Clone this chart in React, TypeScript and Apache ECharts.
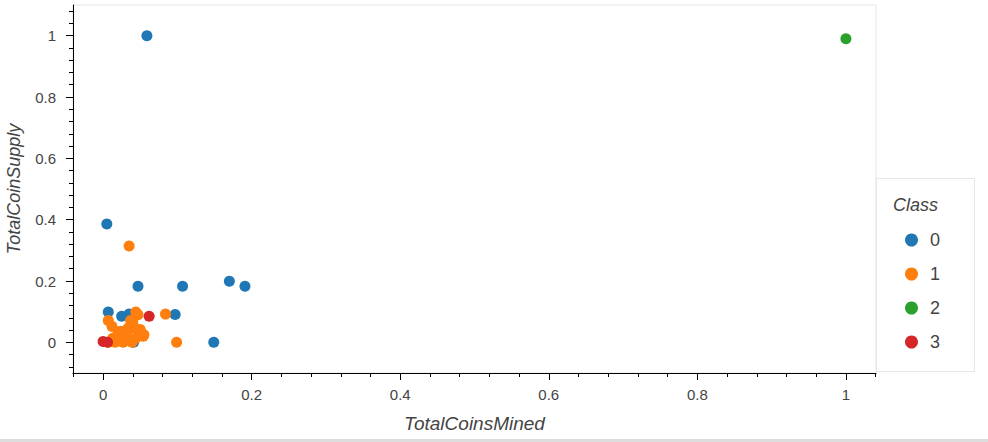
import { useEffect, useRef } from 'react';
import * as echarts from 'echarts';

const classNames = ['0', '1', '2', '3'];
const classColors = ['#1f77b4', '#ff7f0e', '#2ca02c', '#d62728'];

// [TotalCoinsMined, TotalCoinSupply]
const class0 = [
  [0.059, 1.0], [0.005, 0.386], [0.047, 0.183], [0.107, 0.183], [0.17, 0.199],
  [0.191, 0.183], [0.097, 0.091], [0.149, 0.0], [0.007, 0.099], [0.025, 0.085],
  [0.035, 0.092], [0.041, 0.0], [0.032, 0.04], [0.028, 0.005],
];
const class1 = [
  [0.035, 0.314], [0.044, 0.099], [0.047, 0.09], [0.084, 0.092], [0.099, 0.0],
  [0.007, 0.071], [0.012, 0.052], [0.037, 0.071], [0.039, 0.052], [0.047, 0.041],
  [0.055, 0.025], [0.023, 0.036], [0.027, 0.02], [0.018, 0.003], [0.007, 0.0],
  [0.027, 0.0], [0.039, 0.0], [0.034, 0.047], [0.032, 0.03], [0.04, 0.047],
  [0.05, 0.042], [0.054, 0.02], [0.013, 0.013], [0.02, 0.026], [0.044, 0.013],
  [0.04, 0.065], [0.016, 0.0], [0.034, 0.006],
];
const class2 = [[1.0, 0.99]];
const class3 = [[0.0, 0.003], [0.006, 0.0], [0.062, 0.085]];
const classData = [class0, class1, class2, class3];

const majorTicks = [0, 0.2, 0.4, 0.6, 0.8, 1];

const font = 'Liberation Sans, Arial, Helvetica, sans-serif';

export default function App() {
  const chartRef = useRef<HTMLDivElement>(null);

  useEffect(() => {
    if (!chartRef.current) return;
    const chart = echarts.init(chartRef.current, undefined, { renderer: 'svg' });

    const axisCommon = {
      type: 'value' as const,
      splitLine: { show: false },
      axisLine: { show: true, onZero: false, lineStyle: { color: '#000', width: 1 } },
      axisTick: {
        show: true,
        length: 7,
        customValues: majorTicks,
        lineStyle: { color: '#000', width: 1 },
      },
      minorTick: { show: true, splitNumber: 5, length: 4, lineStyle: { color: '#000', width: 1 } },
      axisLabel: {
        customValues: majorTicks,
        color: '#444',
        fontSize: 15,
        fontFamily: font,
      },
      nameLocation: 'middle' as const,
      nameTextStyle: { color: '#444', fontStyle: 'italic' as const, fontFamily: font },
    };

    chart.setOption({
      animation: false,
      grid: {
        left: 73,
        top: 5,
        right: 112,
        bottom: 69,
        outerBoundsMode: 'none',
        show: true,
        borderColor: '#e6e6e6',
        borderWidth: 1,
        backgroundColor: 'transparent',
      },
      xAxis: {
        ...axisCommon,
        min: -0.0405,
        max: 1.0405,
        name: 'TotalCoinsMined',
        nameGap: 41,
        axisLabel: { ...axisCommon.axisLabel, margin: 14 },
        nameTextStyle: { ...axisCommon.nameTextStyle, fontSize: 19 },
      },
      yAxis: {
        ...axisCommon,
        min: -0.1,
        max: 1.1,
        name: 'TotalCoinSupply',
        nameGap: 50,
        nameRotate: 90,
        axisLabel: { ...axisCommon.axisLabel, margin: 17 },
        nameTextStyle: { ...axisCommon.nameTextStyle, fontSize: 18 },
      },
      legend: {
        orient: 'vertical',
        left: 900,
        top: 225,
        icon: 'circle',
        itemWidth: 13,
        itemHeight: 13,
        itemGap: 14,
        selectedMode: false,
        data: classNames,
        textStyle: {
          color: '#444',
          fontSize: 18,
          lineHeight: 20,
          fontFamily: font,
          padding: [0, 0, 0, 7],
        },
      },
      graphic: [
        {
          type: 'rect',
          shape: { x: 876.5, y: 178.5, width: 98, height: 193 },
          style: { fill: '#fff', stroke: '#e6e6e6', lineWidth: 1 },
          z: -1,
        },
        {
          type: 'text',
          x: 893,
          y: 205,
          style: {
            text: 'Class',
            fill: '#444',
            font: `italic 18px ${font}`,
            verticalAlign: 'middle',
          },
        },
        {
          type: 'rect',
          shape: { x: 0, y: 439, width: 988, height: 3 },
          style: { fill: '#dcdcdc' },
        },
      ],
      series: classData.map((d, i) => ({
        name: classNames[i],
        type: 'scatter',
        data: d,
        symbolSize: 11,
        itemStyle: { color: classColors[i], opacity: 1 },
      })),
    });

    return () => {
      chart.dispose();
    };
  }, []);

  return (
    <div
      ref={chartRef}
      style={{ position: 'absolute', left: 0, top: 0, width: 988, height: 442, background: '#fff' }}
    />
  );
}
